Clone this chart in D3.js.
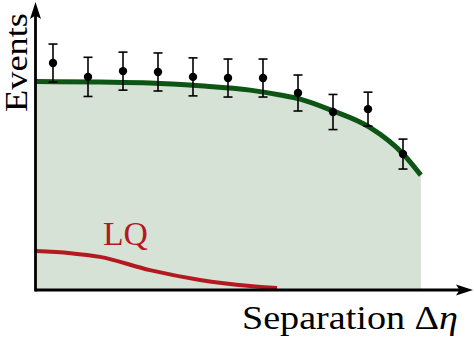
<!DOCTYPE html>
<html>
<head>
<meta charset="utf-8">
<script src="https://cdn.jsdelivr.net/npm/d3@7"></script>
<style>
  html, body { margin: 0; padding: 0; background: #fff; }
  svg { display: block; }
</style>
</head>
<body>
<svg id="chart" width="474" height="338"></svg>
<script>
// ---- data ----
const pointX = [1, 2, 3, 4, 5, 6, 7, 8, 9, 10, 11];
const pointY = [78.8, 74.0, 76.0, 75.7, 74.0, 73.6, 73.6, 68.4, 61.8, 62.8, 47.2];
const pointErr = [6.6, 6.8, 6.6, 6.6, 6.6, 6.6, 6.6, 6.25, 6.1, 5.9, 5.2];

const bgX = [0.5, 2.34, 3.77, 5.2, 6.63, 7.49, 8.06, 9.0, 10.03, 11.03, 11.51];
const bgY = [72.4, 72.2, 71.9, 70.9, 69.4, 67.7, 66.3, 62.2, 56.6, 46.9, 39.9];

const lqX = [0.5, 1.5, 2.34, 3.77, 5.2, 6.63, 7.4];
const lqY = [13.5, 12.8, 11.5, 6.9, 3.5, 1.4, 0.7];

const xDomain = [0.5, 13];
const yDomain = [0, 100];

const xLabel = "Separation ";
const yLabel = "Events";
const lqLabel = "LQ";

// ---- scales ----
const svg = d3.select("#chart");
const x = d3.scaleLinear().domain(xDomain).range([35.5, 473]);
const y = d3.scaleLinear().domain(yDomain).range([290, 2]);

const bg = bgX.map((d, i) => [d, bgY[i]]);
const lq = lqX.map((d, i) => [d, lqY[i]]);
const pts = pointX.map((d, i) => ({x: d, y: pointY[i], e: pointErr[i]}));

// shaded background area
const area = d3.area()
  .x(d => x(d[0])).y0(y(0)).y1(d => y(d[1]))
  .curve(d3.curveMonotoneX);
svg.append("path").datum(bg)
  .attr("d", area)
  .attr("fill", "#d6e2d6");

const line = d3.line().x(d => x(d[0])).y(d => y(d[1])).curve(d3.curveMonotoneX);

// LQ curve
svg.append("path").datum(lq)
  .attr("d", line)
  .attr("fill", "none")
  .attr("stroke", "#b3191f")
  .attr("stroke-width", 4);

// background curve
svg.append("path").datum(bg)
  .attr("d", line)
  .attr("fill", "none")
  .attr("stroke", "#0d5514")
  .attr("stroke-width", 5);

// axes
const axisColor = "#000";
svg.append("line")
  .attr("x1", x(xDomain[0])).attr("x2", x(xDomain[1]) - 12)
  .attr("y1", y(0)).attr("y2", y(0))
  .attr("stroke", axisColor).attr("stroke-width", 2.8);
svg.append("line")
  .attr("x1", x(xDomain[0])).attr("x2", x(xDomain[0]))
  .attr("y1", y(0) + 1.4).attr("y2", y(yDomain[1]) + 12)
  .attr("stroke", axisColor).attr("stroke-width", 2.8);

// arrowheads
const ax = x(xDomain[0]), ay = y(yDomain[1]);
svg.append("path")
  .attr("d", `M${ax},${ay} L${ax + 5.5},${ay + 17} L${ax},${ay + 13.5} L${ax - 5.5},${ay + 17} Z`)
  .attr("fill", axisColor);
const bx = x(xDomain[1]), by = y(0);
svg.append("path")
  .attr("d", `M${bx},${by} L${bx - 17},${by - 5.5} L${bx - 13.5},${by} L${bx - 17},${by + 5.5} Z`)
  .attr("fill", axisColor);

// error bars
const eb = svg.append("g").attr("stroke", "#000").attr("stroke-width", 1.6);
pts.forEach(p => {
  eb.append("line").attr("x1", x(p.x)).attr("x2", x(p.x))
    .attr("y1", y(p.y - p.e)).attr("y2", y(p.y + p.e));
  eb.append("line").attr("x1", x(p.x) - 4.5).attr("x2", x(p.x) + 4.5)
    .attr("y1", y(p.y + p.e)).attr("y2", y(p.y + p.e));
  eb.append("line").attr("x1", x(p.x) - 4.5).attr("x2", x(p.x) + 4.5)
    .attr("y1", y(p.y - p.e)).attr("y2", y(p.y - p.e));
});
svg.append("g").selectAll("circle").data(pts).join("circle")
  .attr("cx", d => x(d.x)).attr("cy", d => y(d.y)).attr("r", 4.2)
  .attr("fill", "#000");

// labels
const serif = '"Liberation Serif"';
svg.append("text")
  .style("font-family", serif).style("font-size", "33px")
  .attr("x", 103).attr("y", 245)
  .attr("fill", "#b3191f")
  .attr("textLength", 45).attr("lengthAdjust", "spacingAndGlyphs")
  .text(lqLabel);

const xl = svg.append("text")
  .style("font-family", serif).style("font-size", "33px")
  .attr("x", 242).attr("y", 329)
  .attr("fill", "#000")
  .attr("textLength", 216).attr("lengthAdjust", "spacingAndGlyphs");
xl.append("tspan").text(xLabel + "Δ");
xl.append("tspan").style("font-style", "italic").text("η");

svg.append("text")
  .style("font-family", serif).style("font-size", "31px")
  .attr("transform", "translate(26.5,112) rotate(-90)")
  .attr("fill", "#000")
  .attr("textLength", 99).attr("lengthAdjust", "spacingAndGlyphs")
  .text(yLabel);
</script>
</body>
</html>
